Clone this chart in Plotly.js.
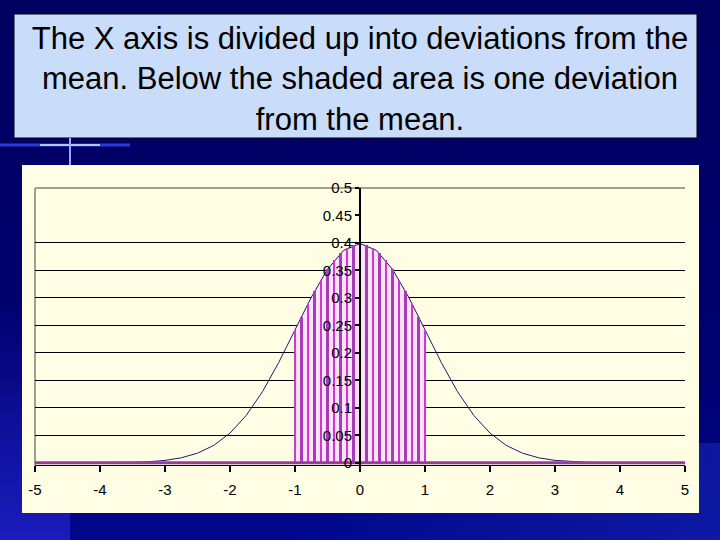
<!DOCTYPE html>
<html>
<head>
<meta charset="utf-8">
<script src="https://cdn.plot.ly/plotly-3.0.1.min.js"></script>
<style>
  html, body { margin: 0; padding: 0; }
  body {
    width: 720px; height: 540px; overflow: hidden;
    background:
      linear-gradient(to right, rgba(20,30,190,0) 0%, rgba(20,30,190,0) 40%, rgba(25,40,185,0.55) 100%) bottom / 100% 18% no-repeat,
      linear-gradient(to bottom, #000060 0%, #000070 70%, #00088c 100%);
    position: relative;
  }
  #strip {
    position: absolute; left: 0; top: 0; width: 70px; height: 540px;
    background: linear-gradient(to bottom, rgba(0,0,0,0) 0%, rgba(0,0,0,0) 55%, rgba(30,30,190,0.9) 100%);
  }
  #plot { position: absolute; left: 0; top: 0; width: 720px; height: 540px; }
</style>
</head>
<body>
<div id="strip"></div>
<div id="plot"></div>
<script>
const TITLE_LINES = [
  'The X axis is divided up into deviations from the',
  'mean. Below the shaded area is one deviation',
  'from the mean.'
];

// normal curve
const CURVE_X = [-5, -4.75, -4.5, -4.25, -4, -3.75, -3.5, -3.25, -3, -2.75, -2.5, -2.25, -2, -1.75, -1.5, -1.25, -1, -0.75, -0.5, -0.25,
  0, 0.25, 0.5, 0.75, 1, 1.25, 1.5, 1.75, 2, 2.25, 2.5, 2.75, 3, 3.25, 3.5, 3.75, 4, 4.25, 4.5, 4.75, 5];
const CURVE_Y = [0, 0, 0, 0, 0.0001, 0.0004, 0.0009, 0.002, 0.0044, 0.0091, 0.0175, 0.0317, 0.054, 0.0863, 0.1295, 0.1826, 0.242, 0.3011, 0.3521, 0.3867,
  0.3989, 0.3867, 0.3521, 0.3011, 0.242, 0.1826, 0.1295, 0.0863, 0.054, 0.0317, 0.0175, 0.0091, 0.0044, 0.002, 0.0009, 0.0004, 0.0001, 0, 0, 0, 0];

// shaded bars, one deviation each side
const BAR_X = [-1, -0.9, -0.8, -0.7, -0.6, -0.5, -0.4, -0.3, -0.2, -0.1, 0, 0.1, 0.2, 0.3, 0.4, 0.5, 0.6, 0.7, 0.8, 0.9, 1];
const BAR_Y = [0.242, 0.2661, 0.2897, 0.3123, 0.3332, 0.3521, 0.3683, 0.3814, 0.391, 0.397, 0.3989,
  0.397, 0.391, 0.3814, 0.3683, 0.3521, 0.3332, 0.3123, 0.2897, 0.2661, 0.242];

const X_TICKS = [-5, -4, -3, -2, -1, 0, 1, 2, 3, 4, 5];
const Y_TICKS = [0, 0.05, 0.1, 0.15, 0.2, 0.25, 0.3, 0.35, 0.4, 0.45, 0.5];
const Y_LABELS = ['0', '0.05', '0.1', '0.15', '0.2', '0.25', '0.3', '0.35', '0.4', '0.45', '0.5'];
const GRID_VALUES = [0.05, 0.1, 0.15, 0.2, 0.25, 0.3, 0.35, 0.4];

const FONT = 'Liberation Sans, Arial, sans-serif';

// plot area in pixels: left 35, right 685, top 188, bottom 465
const L = 35, R = 685, T = 188, B = 465;
const px = x => (x - L) / (R - L);
const py = y => (B - y) / (B - T);

const traces = [
  {
    x: BAR_X, y: BAR_Y, type: 'scatter', mode: 'lines',
    fill: 'tozeroy', fillcolor: '#fbe3f8', line: {width: 0},
    hoverinfo: 'skip', showlegend: false
  },
  {
    x: CURVE_X, y: CURVE_Y, type: 'scatter', mode: 'lines',
    line: {color: '#1a1a70', width: 1}, showlegend: false
  },
  // bars sit on the overlaying axis so they draw above the pink fill
  {
    x: BAR_X, y: BAR_Y, yaxis: 'y2', type: 'bar', width: 0.032,
    marker: {color: BAR_X.map((v, i) => i % 2 ? '#a83cb8' : '#d236d2'), line: {width: 0}},
    showlegend: false
  },
  {
    x: X_TICKS, y: X_TICKS.map(() => 0), yaxis: 'y2', type: 'scatter', mode: 'lines',
    line: {color: '#9a3c9c', width: 3}, showlegend: false, hoverinfo: 'skip'
  }
];

const layout = {
  width: 720, height: 540,
  margin: {l: L, r: 720 - R, t: T, b: 540 - B, pad: 0},
  paper_bgcolor: 'rgba(0,0,0,0)',
  plot_bgcolor: 'rgba(0,0,0,0)',
  showlegend: false,
  bargap: 0,
  title: {
    text: TITLE_LINES.join('<br>'),
    font: {family: FONT, size: 31, color: '#000000'},
    x: 0.5, xanchor: 'center', xref: 'container',
    y: 1 - 49 / 540, yanchor: 'middle', yref: 'container'
  },
  xaxis: {
    range: [-5, 5], tickvals: X_TICKS, ticktext: X_TICKS.map(String),
    showgrid: false, zeroline: false,
    showline: true, linecolor: '#000000', linewidth: 1,
    ticks: 'outside', ticklen: 6, tickwidth: 2, tickcolor: '#000000',
    ticklabelstandoff: 5,
    tickfont: {family: FONT, size: 15, color: '#000000'},
    fixedrange: true
  },
  yaxis: {
    range: [-0.004, 0.5], tickvals: GRID_VALUES,
    showgrid: true, gridcolor: '#000000', gridwidth: 1,
    showticklabels: false, ticks: '', showline: false, zeroline: false,
    fixedrange: true
  },
  yaxis2: {
    overlaying: 'y', anchor: 'free', position: 0.5, side: 'left',
    range: [-0.004, 0.5], tickvals: Y_TICKS, ticktext: Y_LABELS,
    showgrid: false, zeroline: false,
    showline: true, linecolor: '#000000', linewidth: 2,
    ticks: 'outside', ticklen: 4, tickwidth: 2, tickcolor: '#000000',
    tickfont: {family: FONT, size: 15, color: '#000000'},
    fixedrange: true
  },
  shapes: [
    // title box
    {type: 'rect', xref: 'paper', yref: 'paper', layer: 'below',
      x0: px(14), x1: px(697), y0: py(138), y1: py(14),
      fillcolor: '#c9dcfa', line: {color: '#000000', width: 1}},
    // decorative cross
    {type: 'line', xref: 'paper', yref: 'paper', layer: 'below',
      x0: px(0), x1: px(130), y0: py(145), y1: py(145),
      line: {color: '#2a3cd8', width: 3}},
    {type: 'line', xref: 'paper', yref: 'paper', layer: 'below',
      x0: px(40), x1: px(100), y0: py(145), y1: py(145),
      line: {color: '#b8c4ff', width: 2}},
    {type: 'line', xref: 'paper', yref: 'paper', layer: 'below',
      x0: px(70), x1: px(70), y0: py(138), y1: py(166),
      line: {color: '#9aa8ff', width: 2}},
    // chart area
    {type: 'rect', xref: 'paper', yref: 'paper', layer: 'below',
      x0: px(22), x1: px(699), y0: py(513), y1: py(165),
      fillcolor: '#fffde4', line: {width: 0}},
    // plot border, left and top
    {type: 'line', xref: 'paper', yref: 'paper', layer: 'below',
      x0: 0, x1: 0, y0: 0, y1: 1, line: {color: '#808070', width: 1.5}},
    {type: 'line', xref: 'paper', yref: 'paper', layer: 'below',
      x0: 0, x1: 1, y0: 1, y1: 1, line: {color: '#808070', width: 1.5}}
  ]
};

Plotly.newPlot('plot', traces, layout, {displayModeBar: false, staticPlot: true});
</script>
</body>
</html>
